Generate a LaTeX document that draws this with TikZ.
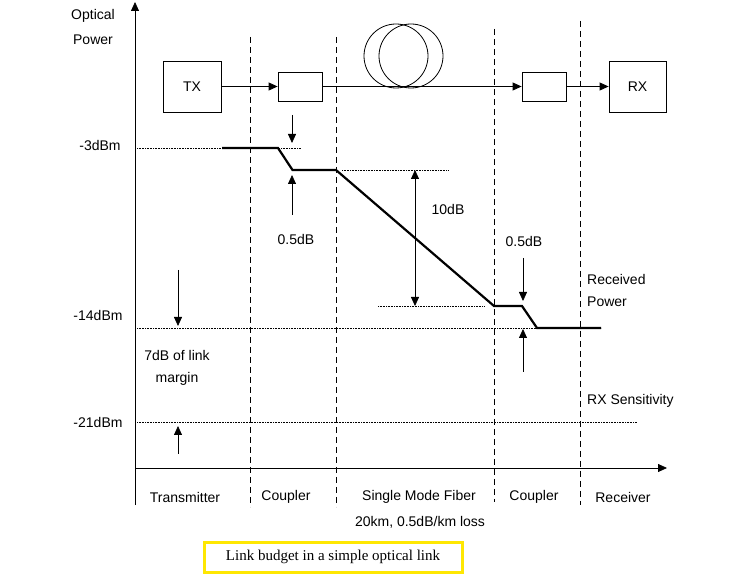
\documentclass[tikz,border=0pt]{standalone}
\usepackage{fontspec}
\setmainfont{Liberation Sans}
\newfontfamily\capfont{Liberation Serif}
\usetikzlibrary{arrows.meta}
\begin{document}
\begin{tikzpicture}[x=1pt,y=-1pt,
  lbl/.style={font=\fontsize{14}{16}\selectfont, inner sep=0pt},
  box/.style={draw, thick, inner sep=0pt},
  sepline/.style={thick, dash pattern=on 6pt off 4pt},
  dot/.style={densely dotted, line width=0.6pt},
  arr/.style={thick, -{Triangle[length=9pt,width=8pt]}},
  curve/.style={line width=2.2pt}]
\useasboundingbox (0,0) rectangle (737,585);
% axes
\coordinate (ybot) at (135,505); \coordinate (ytop) at (135,2);
\coordinate (xl) at (135,468); \coordinate (xr) at (667,468);
\draw[arr] (ybot) -- (ytop);
\draw[arr] (xl) -- (xr);
% dashed separators
\draw[sepline] (250,37) -- (250,507);
\draw[sepline] (336,37) -- (336,507);
\draw[sepline] (494,29) -- (494,502);
\draw[sepline] (580,21) -- (580,505);
% components
\node[box, minimum width=58pt, minimum height=51pt] (tx) at (192,86.5) {};
\node[lbl] at (tx) {TX};
\node[box, minimum width=44pt, minimum height=29pt] (c1) at (300,86.5) {};
\node[box, minimum width=44pt, minimum height=29pt] (c2) at (544,86.5) {};
\node[box, minimum width=57pt, minimum height=51pt] (rx) at (637.5,86.5) {};
\node[lbl] at (rx) {RX};
\draw[thick] (396,56) circle (32);
\draw[thick] (411,56) circle (32);
\draw[arr] (tx) -- (c1);
\draw[arr] (c1) -- (c2);
\draw[arr] (c2) -- (rx);
% dotted levels
\draw[dot] (137,148) -- (301,148);
\draw[dot] (342,170) -- (448,170);
\draw[dot] (378,306) -- (484,306);
\draw[dot] (137,328) -- (601,328);
\draw[dot] (137,422) -- (637,422);
% power curve
\draw[curve, line join=miter] (222,148) -- (278,148) -- (292.5,170) -- (336,170) -- (494,306) -- (522,306) -- (537,328) -- (601,328);
% arrows
\draw[arr] (292,115) -- (292,143);
\draw[arr] (292,215) -- (292,175);
\draw[thick, {Triangle[length=9pt,width=8pt]}-{Triangle[length=9pt,width=8pt]}] (415,170) -- (415,306);
\draw[arr] (523,258) -- (523,301);
\draw[arr] (523,372) -- (523,329);
\draw[arr] (178,270) -- (178,326);
\draw[arr] (178,454) -- (178,426);
% labels
\node[lbl] at (93,16) {Optical};
\node[lbl] at (93,40) {Power};
\node[lbl] at (100,145) {-3dBm};
\node[lbl] at (98,315) {-14dBm};
\node[lbl] at (98,422) {-21dBm};
\node[lbl] at (296,239) {0.5dB};
\node[lbl] at (448,209) {10dB};
\node[lbl] at (524,241) {0.5dB};
\node[lbl] at (177,355) {7dB of link};
\node[lbl] at (177,379) {margin};
\node[lbl, anchor=west] at (587,279) {Received};
\node[lbl, anchor=west] at (587,302) {Power};
\node[lbl, anchor=west] at (587,401) {RX Sensitivity};
\node[lbl] at (185,497) {Transmitter};
\node[lbl] at (286,497) {Coupler};
\node[lbl] at (419,497) {Single Mode Fiber};
\node[lbl] at (534,497) {Coupler};
\node[lbl] at (623,497) {Receiver};
\node[lbl] at (420,522) {20km, 0.5dB/km loss};
\node[draw=yellow!90!orange, line width=3pt, minimum width=258pt, minimum height=30pt] (cap) at (333,557) {};
\node[font=\capfont\fontsize{15}{17}\selectfont, inner sep=0pt] at (cap) {Link budget in a simple optical link};
\end{tikzpicture}
\end{document}
